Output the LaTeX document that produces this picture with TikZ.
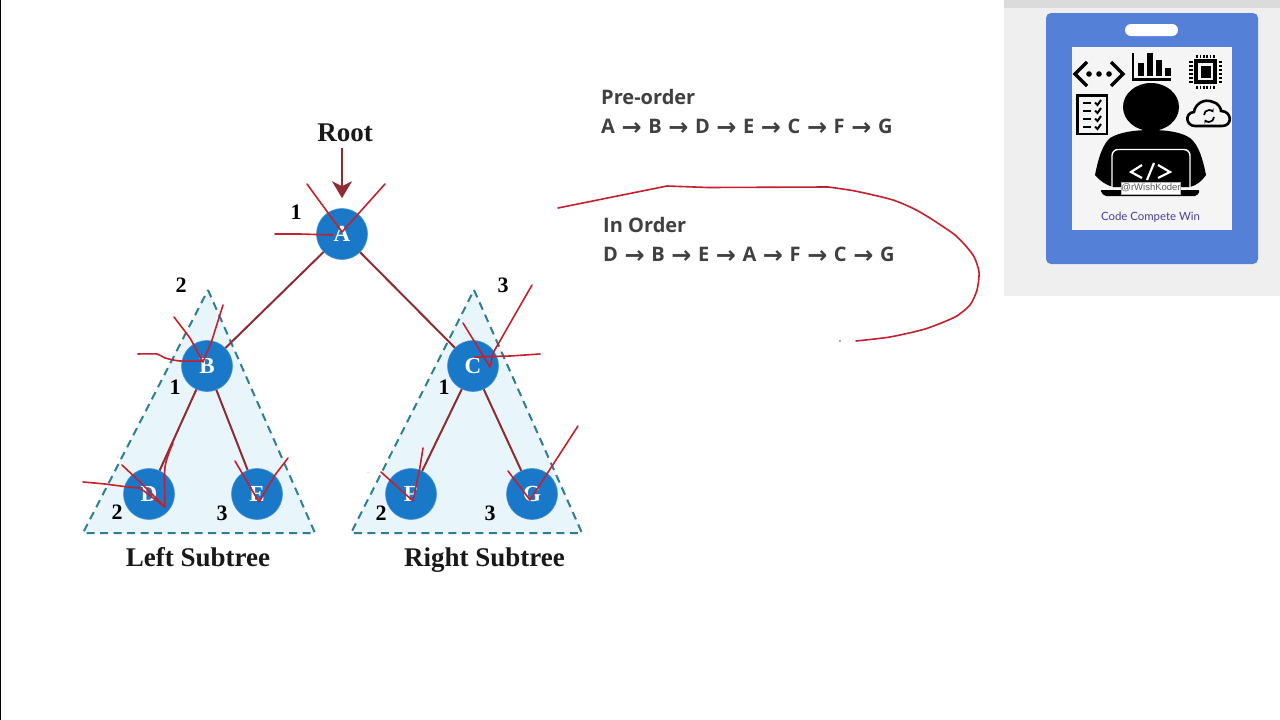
\documentclass[tikz,border=0pt]{standalone}
\usepackage{fontspec}
\setmainfont{Liberation Serif}
\newfontfamily\uifont{Open Sans}
\newfontfamily\arrowfont{DejaVu Sans}
\newfontfamily\badgefont{Lato}
\newfontfamily\tagfont{Liberation Sans}
\newfontfamily\boldserif{Liberation Serif Bold}
\usetikzlibrary{arrows.meta}
\definecolor{nodeblue}{HTML}{1A78C8}
\definecolor{edgered}{HTML}{8E2C34}
\definecolor{inkred}{HTML}{C4202E}
\definecolor{triline}{HTML}{2F7F92}
\definecolor{trifill}{HTML}{E8F6FB}
\definecolor{uitext}{HTML}{404040}
\definecolor{badgeblue}{HTML}{5580D8}
\definecolor{badgebg}{HTML}{EFEFF0}
\definecolor{badgetext}{HTML}{4A3F96}
\newcommand{\arr}{\hspace{6.6pt}\raisebox{-2pt}{\arrowfont\bfseries\fontsize{24}{24}\selectfont→}\hspace{6.6pt}}
\tikzset{
  tree/.style={circle,fill=nodeblue,draw=nodeblue!80!white,line width=.6pt,minimum size=51pt,inner sep=0pt,text=white,font=\boldserif\fontsize{23}{23}\selectfont},
  edgeline/.style={draw=edgered,line width=2pt},
  ink/.style={draw=inkred,line width=1.6pt,line cap=round,line join=round},
  subtri/.style={fill=trifill,draw=triline,line width=2pt,dash pattern=on 8pt off 5.5pt},
  num/.style={font=\boldserif\fontsize{22}{22}\selectfont,text=black,inner sep=0pt},
  caption/.style={font=\boldserif\fontsize{27}{27}\selectfont,text=black!90,inner sep=0pt,anchor=base},
  uihead/.style={font=\uifont\bfseries\fontsize{20}{20}\selectfont,text=uitext,anchor=base west,inner sep=0pt},
  icon/.style={draw=black,line width=2.6pt,line join=miter},
  pin/.style={draw=black,line width=1.5pt},
}
\begin{document}
\begin{tikzpicture}[x=1pt,y=-1pt]
\useasboundingbox (0,0) rectangle (1280,720);
\fill[white] (0,0) rectangle (1280,720);
\fill[black] (0,0) rectangle (1.2,720);
% subtrees
\draw[subtri] (208,290) -- (315,533) -- (83,533) -- cycle;
\draw[subtri] (474,290) -- (582,533) -- (351,533) -- cycle;
% tree nodes
\node[tree] (A) at (342,234) {A};
\node[tree] (B) at (207,366) {B};
\node[tree] (C) at (473,366) {C};
\node[tree] (D) at (149,494) {D};
\node[tree] (E) at (257,494) {E};
\node[tree] (F) at (411,494) {F};
\node[tree] (G) at (532,494) {G};
\draw[edgeline] (A) -- (B);
\draw[edgeline] (A) -- (C);
\draw[edgeline] (B) -- (D);
\draw[edgeline] (B) -- (E);
\draw[edgeline] (C) -- (F);
\draw[edgeline] (C) -- (G);
\node[caption] (root) at (345,141) {Root};
\coordinate (rootstart) at (342,148);
\draw[edgeline,-{Stealth[length=17pt,width=20pt,inset=5pt]},shorten >=10pt] (rootstart) -- (A.north -| rootstart);
% labels
\node[caption] (lsub) at (198,566) {Left Subtree};
\node[caption] (rsub) at (484.5,566) {Right Subtree};
\node[num] (n1) at (296,212) {1};
\node[num] (n2) at (181,285) {2};
\node[num] (n3) at (175,387) {1};
\node[num] (n4) at (117,512) {2};
\node[num] (n5) at (222,513) {3};
\node[num] (n6) at (503,285) {3};
\node[num] (n7) at (444,387) {1};
\node[num] (n8) at (381,513) {2};
\node[num] (n9) at (490,513) {3};
% traversal text
\node[uihead] (pre) at (601,104) {Pre-order};
\node[uihead] (preseq) at (601,133) {A\arr B\arr D\arr E\arr C\arr F\arr G};
\node[uihead] (ino) at (603,232) {In Order};
\node[uihead] (inseq) at (603,261) {D\arr B\arr E\arr A\arr F\arr C\arr G};
% ink strokes
\draw[ink] (307,184) -- (342,232) -- (385,184);
\draw[ink] (275,234) -- (300,234) -- (333,235);
\draw[ink] (174,317) -- (190,338) -- (203,362) -- (212,340) -- (223,305);
\draw[ink] plot[smooth,tension=.4] coordinates {(138,354) (157,354) (165,358) (180,361) (203,361)};
\draw[ink] (122,465) -- (140,482) -- (165,507);
\draw[ink] plot[smooth,tension=.5] coordinates {(165,507) (165,467) (173,443)};
\draw[ink] plot[smooth,tension=.3] coordinates {(83,482) (105,484) (128,487) (140,488)};
\draw[ink] (140,488) -- (165,507);
\draw[ink] (235,461) -- (259,502) -- (275,475) -- (288,458);
\draw[ink] (463,323) -- (490,367) -- (493,353) -- (532,285);
\draw[ink] (475,357) -- (510,356) -- (540,354);
\draw[ink] (381,472) -- (413,501) -- (420,467) -- (423,448);
\draw[ink] (508,471) -- (530,500) -- (578,426);
\draw[ink] (558,208) -- (667,186) -- (708,187.5) -- (828,187);
\draw[ink] plot[smooth,tension=.4] coordinates {(828,187) (855,191) (893,200) (920,212) (955,235) (973,255) (979,272) (977,290) (970,305) (955,317) (925,329) (890,337) (856,341)};
\fill[black!70] (840,341) circle (.9pt);
\fill[black!50] (118,457) circle (.5pt);
\fill[black!50] (368,472) circle (.5pt);
% badge
\fill[badgebg] (1004,0) rectangle (1280,296);
\fill[black!14] (1004,0) rectangle (1280,8);
\fill[badgeblue,rounded corners=5pt] (1046,13) rectangle (1258,264);
\fill[white,rounded corners=6pt] (1125,24) rectangle (1178,36);
\fill[badgebg!60!white] (1072,47) rectangle (1232,230);
% code icon
\draw[icon,line width=3.4pt] (1087,62) -- (1075,74) -- (1087,86);
\draw[icon,line width=3.4pt] (1111,62) -- (1123,74) -- (1111,86);
\fill (1089,74) circle (2.8pt) (1099,74) circle (2.8pt) (1109,74) circle (2.8pt);
% chart icon
\draw[icon] (1133,53) -- (1133,79.5) -- (1171,79.5);
\fill (1138,63) rectangle (1144,76);
\fill (1147,53) rectangle (1153,76);
\fill (1156,60) rectangle (1162,76);
\fill (1165,68) rectangle (1171,76);
% chip icon
\fill (1194,59) rectangle (1217,84);
\fill[badgebg!60!white] (1198,63) rectangle (1213,80);
\fill (1200.5,65.5) rectangle (1210.5,77.5);
\foreach \px in {1197,1200.4,1203.8,1207.2,1210.6,1214}{\draw[pin] (\px,54.5) -- (\px,57.5); \draw[pin] (\px,85.5) -- (\px,88.5);}
\foreach \py in {62,66,70,74,78,82}{\draw[pin] (1189,\py) -- (1192.5,\py); \draw[pin] (1218.5,\py) -- (1222,\py);}
% checklist icon
\draw[icon] (1077.5,95.5) rectangle (1107,134);
\foreach \ry in {103,111,119,127}{
  \draw[black,line width=2pt] (1083,\ry) -- (1091,\ry);
  \draw[black,line width=2pt] (1095,\ry-.5) -- (1097.5,\ry+2) -- (1101,\ry-3);
}
% cloud icon
\draw[icon] (1195,126) .. controls (1186,126) and (1184,113) .. (1194,112) .. controls (1195,104) and (1204,98) .. (1213,102) .. controls (1218,103) and (1221,108) .. (1221,111) .. controls (1232,111) and (1233,126) .. (1222,126) -- cycle;
\draw[black,line width=1.7pt,-{Stealth[length=3.5pt,width=4.5pt]}] (1204,115) arc (180:330:5);
\draw[black,line width=1.7pt,-{Stealth[length=3.5pt,width=4.5pt]}] (1214,117) arc (0:150:5);
% coder figure
\fill (1151,107) ellipse (28pt and 24pt);
\fill (1151,130) .. controls (1135,130) and (1120,132) .. (1110,138) .. controls (1102,145) and (1098,160) .. (1095,175) .. controls (1100,181) and (1106,185) .. (1113,187) -- (1190,187) .. controls (1197,185) and (1202,181) .. (1206,175) .. controls (1203,160) and (1199,145) .. (1190,138) .. controls (1181,132) and (1167,130) .. (1151,130) -- cycle;
\fill[rounded corners=2pt] (1100,190) -- (1200,190) -- (1197,196) -- (1104,196) -- cycle;
\draw[white,line width=1.4pt,rounded corners=6pt] (1112,189) -- (1112,149.5) -- (1190,149.5) -- (1190,189);
\draw[white,line width=2.2pt] (1142,165) -- (1131,172) -- (1142,178) (1147,180) -- (1154,163) (1158,165) -- (1170,172) -- (1158,178);
\node[fill=white,draw=black!30,line width=.3pt,minimum width=58pt,minimum height=12pt,inner sep=0pt,text=black!65,font=\tagfont\fontsize{9.5}{9.5}\selectfont] (tag) at (1151,188) {@rWishKoder};
\node[inner sep=0pt,text=badgetext,font=\badgefont\fontsize{11.4}{11.4}\selectfont] (motto) at (1150.5,217.5) {Code Compete Win};
\end{tikzpicture}
\end{document}
